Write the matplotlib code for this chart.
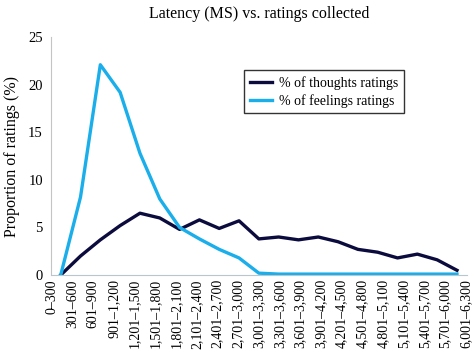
import matplotlib
matplotlib.use("Agg")
import matplotlib.pyplot as plt

plt.rcParams['font.family'] = ['Liberation Serif', 'DejaVu Serif']

# latency bins (ms)
bins = ["0–300", "301–600", "601–900", "901–1,200", "1,201–1,500", "1,501–1,800",
        "1,801–2,100", "2,101–2,400", "2,401–2,700", "2,701–3,000", "3,001–3,300",
        "3,301–3,600", "3,601–3,900", "3,901–4,200", "4,201–4,500", "4,501–4,800",
        "4,801–5,100", "5,101–5,400", "5,401–5,700", "5,701–6,000", "6,001–6,300"]

thoughts = [0, 2.0, 3.7, 5.2, 6.5, 6.0, 4.8, 5.8, 4.9, 5.7, 3.8,
            4.0, 3.7, 4.0, 3.5, 2.7, 2.4, 1.8, 2.2, 1.6, 0.5]
feelings = [0, 8.2, 22.1, 19.2, 12.8, 8.0, 5.0, 3.8, 2.7, 1.8, 0.2,
            0.1, 0.1, 0.1, 0.1, 0.1, 0.1, 0.1, 0.1, 0.1, 0.1]

fig = plt.figure(figsize=(4.74, 3.54), dpi=100)
ax = fig.add_axes([0.108, 0.223, 0.877, 0.672])

x = list(range(len(thoughts)))
ax.plot(x, thoughts, color='#0b0b3d', lw=2.4, label='% of thoughts ratings')
ax.plot(x, feelings, color='#1aaeea', lw=2.4, label='% of feelings ratings')

# in the original the labels are spread a bit wider than the points
tick_pos = [-0.45 + 1.045 * i for i in range(len(bins))]
ax.set_xticks(tick_pos)
ax.set_xticklabels(bins, rotation=90, fontsize=10)
ax.set_xlim(-0.48, 20.5)
ax.set_ylim(0, 25)
ax.set_yticks([0, 5, 10, 15, 20, 25])
ax.tick_params(axis='y', labelsize=10.5, length=0, pad=6)
ax.tick_params(axis='x', length=0, pad=3)

for s in ['top', 'right']:
    ax.spines[s].set_visible(False)
ax.spines['left'].set_color('#c4c4c4')
ax.spines['bottom'].set_color('#b8c6d0')

ax.set_ylabel('Proportion of ratings (%)', fontsize=11.5, labelpad=6)
ax.set_title('Latency (MS) vs. ratings collected', fontsize=11.5, pad=14)

leg = ax.legend(loc='upper left', bbox_to_anchor=(0.464, 0.86), fontsize=10,
                frameon=True, fancybox=False, edgecolor='black',
                handlelength=1.6, handletextpad=0.5, borderpad=0.4,
                labelspacing=0.3, borderaxespad=0)
leg.get_frame().set_linewidth(1.0)

fig.savefig('out.png', dpi=100)
